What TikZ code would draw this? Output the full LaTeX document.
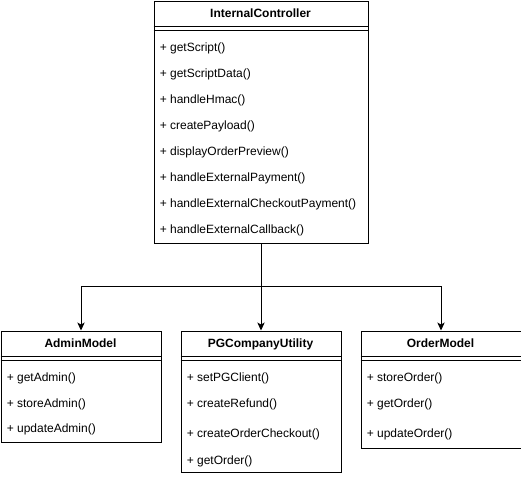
\documentclass[tikz,border=0pt]{standalone}
\usepackage{fontspec}
\setmainfont{Liberation Sans}
\usetikzlibrary{arrows.meta}
\begin{document}
\begin{tikzpicture}[x=0.75pt,y=-0.75pt,
  classbox/.style={draw=black, line width=0.75pt, rectangle, inner sep=0pt, anchor=north west, fill=white},
  sepline/.style={draw=black, line width=0.75pt},
  ctitle/.style={inner sep=0pt, anchor=mid, font=\fontsize{9pt}{11pt}\selectfont\bfseries},
  citem/.style={inner sep=0pt, anchor=mid west, font=\fontsize{9pt}{11pt}\selectfont},
  edge/.style={draw=black, line width=0.75pt, -{Stealth[length=6pt,width=5.5pt,inset=1.5pt]}}
]
\useasboundingbox (0,0) rectangle (521,476);

% InternalController
\node[classbox, minimum width=160.5pt, minimum height=181.875pt] (ic) at (153.5,0.5) {};
\draw[sepline] (153.5,26.5) -- (367.5,26.5);
\draw[sepline] (153.5,30.5) -- (367.5,30.5);
\node[ctitle] (ict) at (260.5,13.5) {InternalController};
\node[citem] (ic1) at (159.5,47.5) {+ getScript()};
\node[citem] (ic2) at (159.5,73.5) {+ getScriptData()};
\node[citem] (ic3) at (159.5,99.5) {+ handleHmac()};
\node[citem] (ic4) at (159.5,125.5) {+ createPayload()};
\node[citem] (ic5) at (159.5,151.5) {+ displayOrderPreview()};
\node[citem] (ic6) at (159.5,177.5) {+ handleExternalPayment()};
\node[citem] (ic7) at (159.5,203.5) {+ handleExternalCheckoutPayment()};
\node[citem] (ic8) at (159.5,229.5) {+ handleExternalCallback()};

% AdminModel
\node[classbox, minimum width=120pt, minimum height=83.625pt] (am) at (0.5,330.5) {};
\draw[sepline] (0.5,356.5) -- (160.5,356.5);
\draw[sepline] (0.5,360.5) -- (160.5,360.5);
\node[ctitle] (amt) at (80.5,343.5) {AdminModel};
\node[citem] (am1) at (6.5,378) {+ getAdmin()};
\node[citem] (am2) at (6.5,404) {+ storeAdmin()};
\node[citem] (am3) at (6.5,429) {+ updateAdmin()};

% PGCompanyUtility
\node[classbox, minimum width=120pt, minimum height=106.125pt] (pg) at (180.5,330.5) {};
\draw[sepline] (180.5,356.5) -- (340.5,356.5);
\draw[sepline] (180.5,360.5) -- (340.5,360.5);
\node[ctitle] (pgt) at (260.5,343.5) {PGCompanyUtility};
\node[citem] (pg1) at (186.5,378) {+ setPGClient()};
\node[citem] (pg2) at (186.5,404) {+ createRefund()};
\node[citem] (pg3) at (186.5,434) {+ createOrderCheckout()};
\node[citem] (pg4) at (186.5,460.5) {+ getOrder()};

% OrderModel
\node[classbox, minimum width=120pt, minimum height=88.125pt] (om) at (360.5,330.5) {};
\draw[sepline] (360.5,356.5) -- (520.5,356.5);
\draw[sepline] (360.5,360.5) -- (520.5,360.5);
\node[ctitle] (omt) at (440.5,343.5) {OrderModel};
\node[citem] (om1) at (366.5,378) {+ storeOrder()};
\node[citem] (om2) at (366.5,404) {+ getOrder()};
\node[citem] (om3) at (366.5,434) {+ updateOrder()};

% connectors
\coordinate (j) at (260.5,286.5);
\draw[edge] (ic.south) -- (pg.north);
\draw[edge] (j) -| (am.north);
\draw[edge] (j) -| (om.north);
\end{tikzpicture}
\end{document}
